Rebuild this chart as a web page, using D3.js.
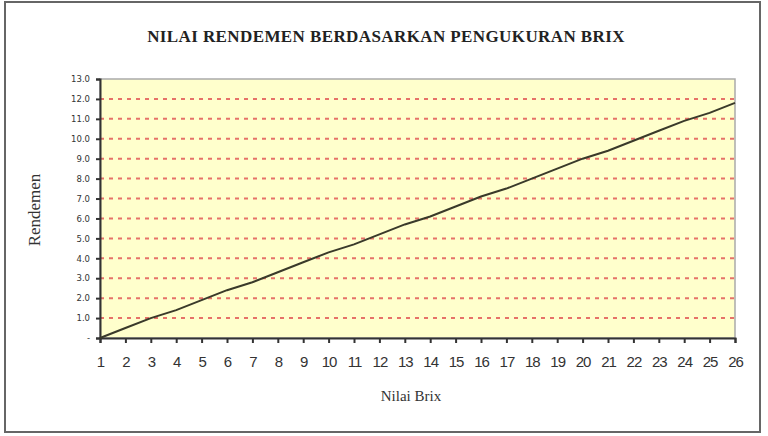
<!DOCTYPE html>
<html>
<head>
<meta charset="utf-8">
<script src="https://cdn.jsdelivr.net/npm/d3@7"></script>
<style>
  body { margin: 0; background: #fff; }
  svg { display: block; }
</style>
</head>
<body>
<svg id="chart"></svg>
<script>
// data
const brix = [1, 2, 3, 4, 5, 6, 7, 8, 9, 10, 11, 12, 13, 14, 15, 16, 17, 18, 19, 20, 21, 22, 23, 24, 25, 26]
const rendemen = [0, 0.5, 1.0, 1.4, 1.9, 2.4, 2.8, 3.3, 3.8, 4.3, 4.7, 5.2, 5.7, 6.1, 6.6, 7.1, 7.5, 8.0, 8.5, 9.0, 9.4, 9.9, 10.4, 10.9, 11.3, 11.8]
const yTicks = [0, 1, 2, 3, 4, 5, 6, 7, 8, 9, 10, 11, 12, 13]

const W = 768, H = 436
const margin = { top: 79, left: 100, right: 33, bottom: 98 }
const width = W - margin.left - margin.right
const height = H - margin.top - margin.bottom

const svg = d3.select('#chart')
    .attr('width', W)
    .attr('height', H)

// outer frame
svg.append('rect')
    .attr('x', 5).attr('y', 2)
    .attr('width', 755).attr('height', 430)
    .attr('fill', '#fff')
    .attr('stroke', '#666')
    .attr('stroke-width', 2)

svg.append('text')
    .attr('x', 386).attr('y', 42)
    .attr('text-anchor', 'middle')
    .attr('font-family', '"Liberation Serif", "DejaVu Serif", serif')
    .attr('font-weight', 'bold')
    .attr('font-size', 17)
    .attr('letter-spacing', 0.4)
    .attr('fill', '#222')
    .text('NILAI RENDEMEN BERDASARKAN PENGUKURAN BRIX')

const chart = svg.append('g')
    .attr('transform', `translate(${margin.left},${margin.top})`)

const x = d3.scaleLinear().domain([1, 26]).range([0, width])
const y = d3.scaleLinear().domain([0, 13]).range([height, 0])

chart.append('rect')
    .attr('width', width).attr('height', height)
    .attr('fill', '#ffffcc')
    .attr('stroke', '#aaa')
    .attr('stroke-width', 1.5)

// dashed grid lines
chart.selectAll('.grid')
    .data(yTicks.filter(d => d > 0 && d < 13))
    .join('line')
    .attr('class', 'grid')
    .attr('x1', 0).attr('x2', width)
    .attr('y1', d => y(d)).attr('y2', d => y(d))
    .attr('stroke', '#e05050')
    .attr('stroke-width', 2)
    .attr('stroke-dasharray', '4,5')
    .attr('opacity', 0.8)

const yAxis = d3.axisLeft(y)
    .tickValues(yTicks)
    .tickSize(4)
    .tickFormat(d => d === 0 ? '-' : d3.format('.1f')(d))

const yAxisG = chart.append('g').call(yAxis)
yAxisG.select('.domain').attr('stroke', '#333').attr('stroke-width', 2)
yAxisG.selectAll('.tick line').attr('stroke', '#333').attr('stroke-width', 2)
yAxisG.selectAll('.tick text')
    .attr('x', -10)
    .attr('font-family', '"DejaVu Sans", sans-serif')
    .attr('font-size', 8.5)
    .attr('fill', '#333')

const xAxis = d3.axisBottom(x)
    .tickValues(brix)
    .tickSize(5)
    .tickFormat(d3.format('d'))

const xAxisG = chart.append('g')
    .attr('transform', `translate(0,${height})`)
    .call(xAxis)
xAxisG.select('.domain').attr('stroke', '#333').attr('stroke-width', 2)
xAxisG.selectAll('.tick line').attr('stroke', '#333').attr('stroke-width', 2)
xAxisG.selectAll('.tick text')
    .attr('y', 18)
    .attr('font-family', '"Liberation Sans", Arial, sans-serif')
    .attr('font-size', 15)
    .attr('letter-spacing', -1)
    .attr('fill', '#333')

const line = d3.line()
    .x((d, i) => x(brix[i]))
    .y(d => y(d))

chart.append('path')
    .datum(rendemen)
    .attr('d', line)
    .attr('fill', 'none')
    .attr('stroke', '#3a3a2a')
    .attr('stroke-width', 2)

svg.append('text')
    .attr('x', 411).attr('y', 401)
    .attr('text-anchor', 'middle')
    .attr('font-family', '"Liberation Serif", "DejaVu Serif", serif')
    .attr('font-size', 15)
    .attr('fill', '#333')
    .text('Nilai Brix')

svg.append('text')
    .attr('transform', 'translate(40,210) rotate(-90)')
    .attr('text-anchor', 'middle')
    .attr('font-family', '"Liberation Serif", "DejaVu Serif", serif')
    .attr('font-size', 17)
    .attr('fill', '#333')
    .text('Rendemen')
</script>
</body>
</html>
